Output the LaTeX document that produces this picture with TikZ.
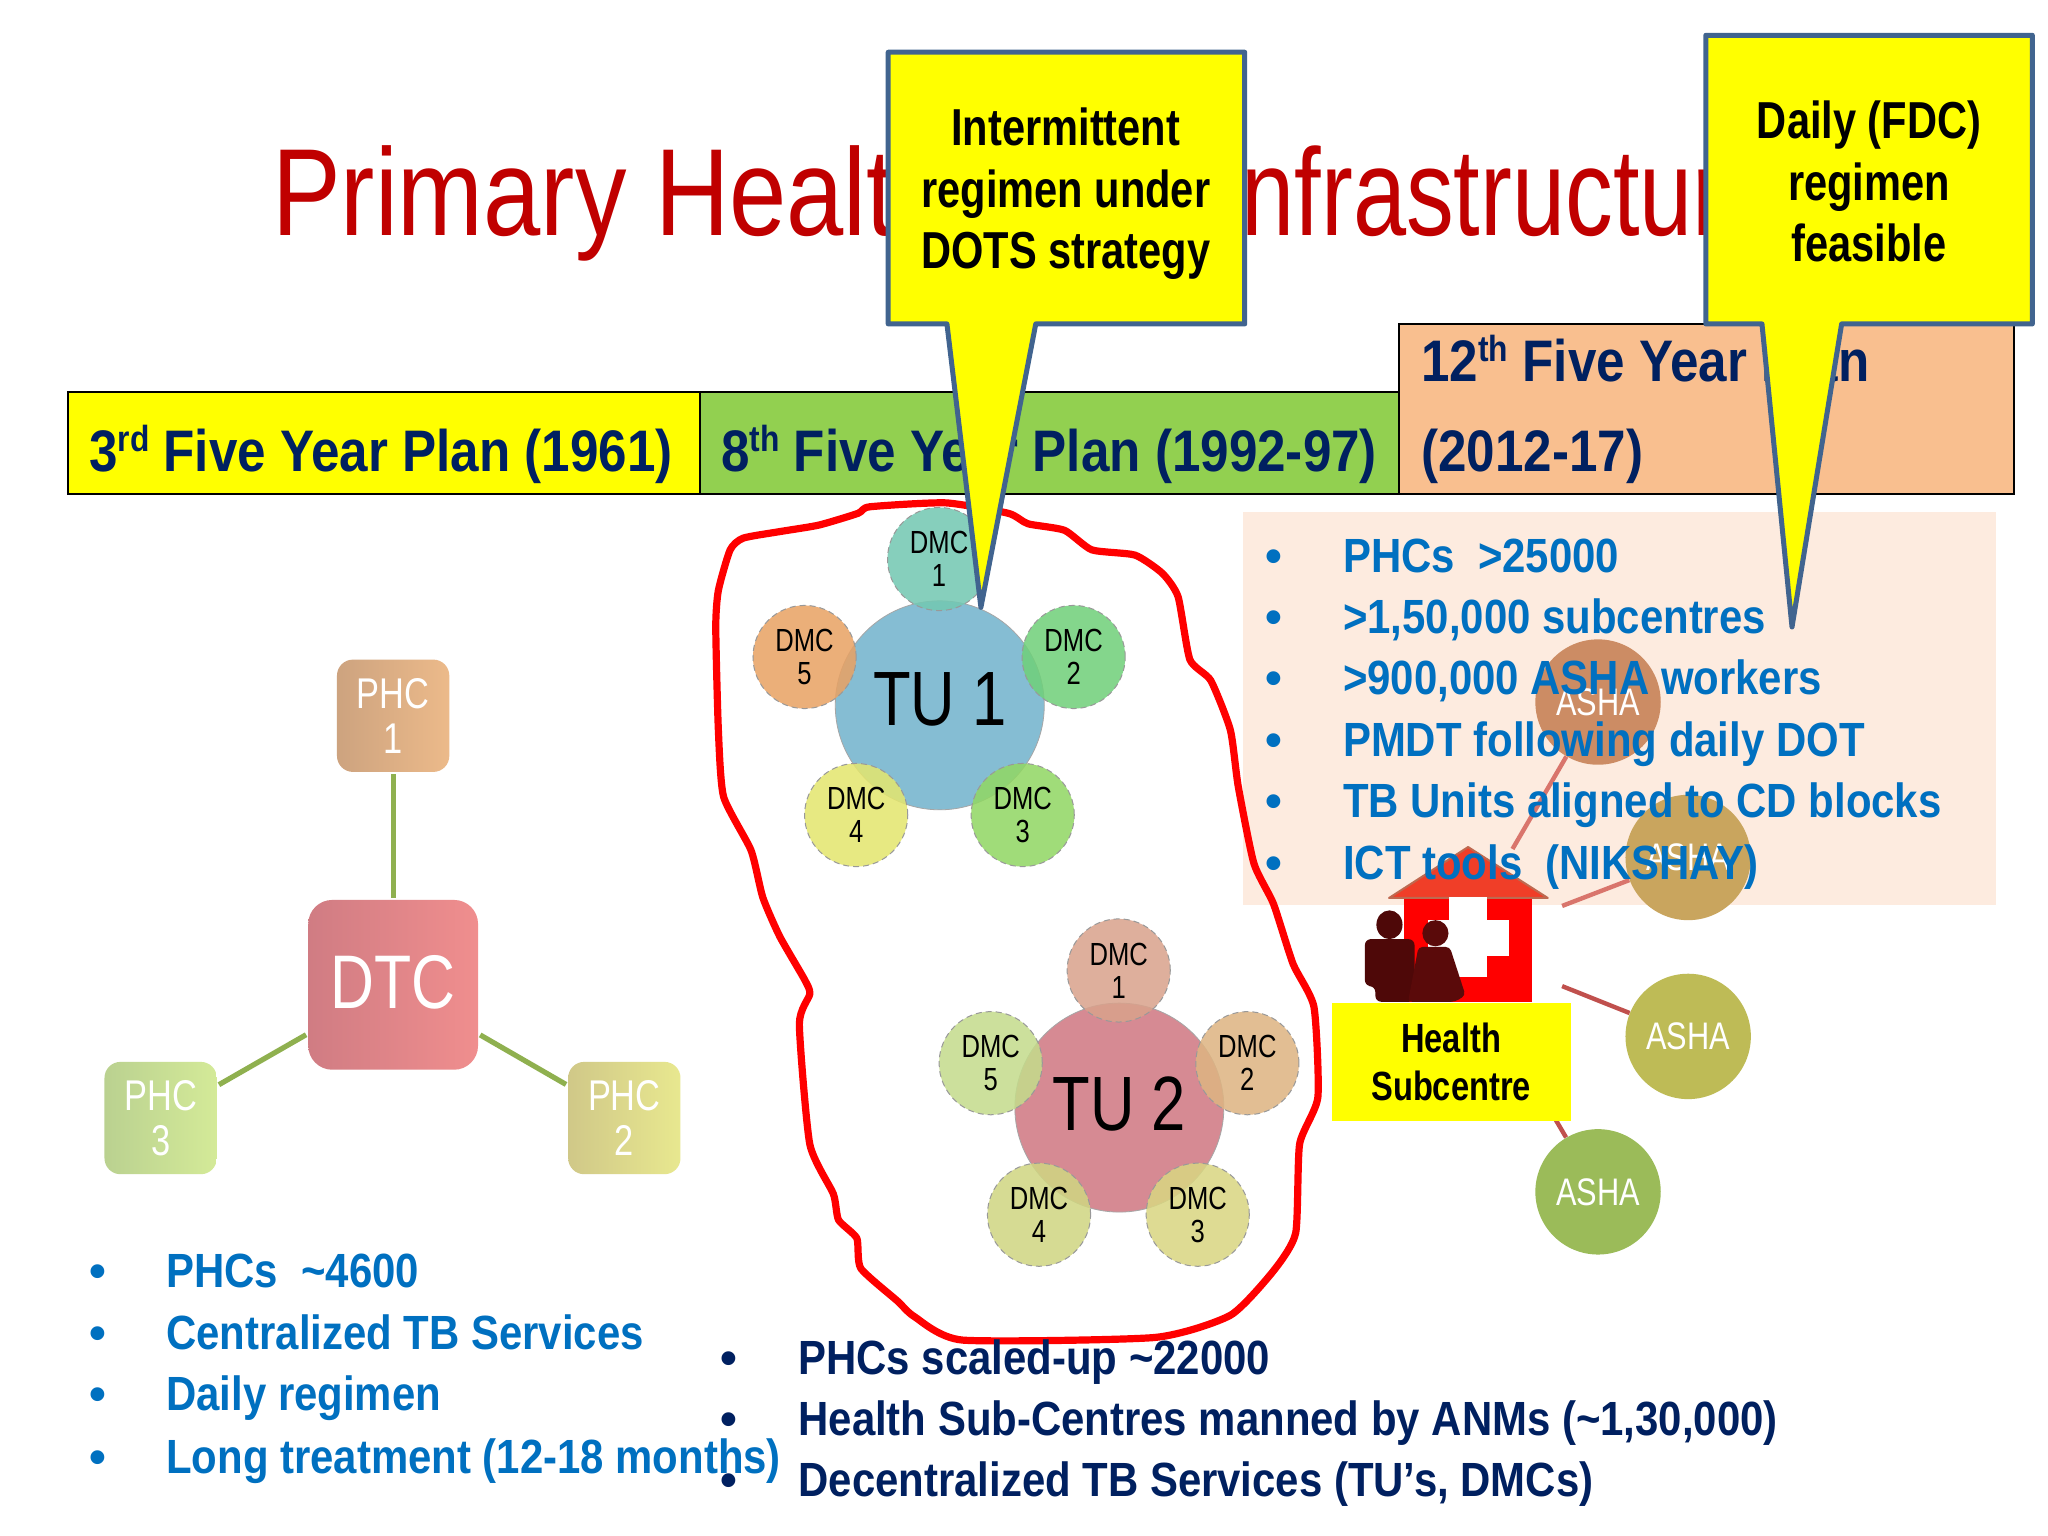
\documentclass[tikz,border=0pt]{standalone}
\usepackage{fontspec}
\setmainfont{Liberation Sans}
\newfontfamily\nar[FakeStretch=0.8]{Liberation Sans}
\newfontfamily\narb[FakeStretch=0.873]{Liberation Sans}
\newfontfamily\ttl[FakeStretch=0.83]{Liberation Sans}
\newfontfamily\ttlb[FakeStretch=0.77]{Liberation Sans}
\newcommand\supr[1]{\raisebox{.34em}{\scalebox{.62}{#1}}}
\newcommand\til{\textasciitilde}
\definecolor{cblue}{HTML}{0070C0}
\definecolor{cnavy}{HTML}{002060}
\definecolor{cred}{HTML}{C00000}
\definecolor{cyel}{HTML}{FFFF00}
\definecolor{cgrn}{HTML}{92D050}
\definecolor{corg}{HTML}{F9BF8F}
\definecolor{cpanel}{HTML}{FDEBDF}
\definecolor{cedge}{HTML}{41648F}
\definecolor{clink}{HTML}{8FB04F}
\definecolor{cmaroon}{HTML}{4E0808}
\definecolor{cwoman}{RGB}{90,10,10}
\definecolor{croof}{RGB}{240,62,40}
\definecolor{croofedge}{RGB}{190,105,80}
\definecolor{cline}{HTML}{C0504D}
\definecolor{clineb}{RGB}{217,117,108}
\definecolor{pa}{RGB}{205,163,127}\definecolor{pb}{RGB}{236,186,138}
\definecolor{da}{RGB}{208,124,131}\definecolor{db}{RGB}{240,142,142}
\definecolor{qa}{RGB}{208,200,136}\definecolor{qb}{RGB}{232,232,143}
\definecolor{ra}{RGB}{186,209,144}\definecolor{rb}{RGB}{212,234,152}
\tikzset{
  barbox/.style={draw=black,line width=1pt},
  bartext/.style={anchor=base west,inner sep=0,text=cnavy,font=\narb\bfseries\fontsize{29.3}{32}\selectfont},
  bullettext/.style={anchor=base west,inner sep=0,font=\narb\bfseries\fontsize{24}{26}\selectfont},
  bulletdot/.style={anchor=base,inner sep=0,font=\bfseries\fontsize{24}{26}\selectfont},
  calloutbox/.style={draw=cedge,fill=cyel,line width=2.5pt,line join=round},
  callouttext/.style={align=center,inner sep=0,text=black,font=\nar\bfseries\fontsize{26}{30.7}\selectfont},
  phcbox/.style={rounded corners=8pt,minimum size=86*0.653pt,inner sep=0,align=center,text=white,
     font=\nar\fontsize{21.5}{22.5}\selectfont},
  link/.style={draw=clink,line width=2.6pt,shorten >=1pt,shorten <=1pt},
  tucirc/.style={circle,minimum size=160*0.653pt,inner sep=0,draw=gray!70,line width=.4pt,text=black,
     font=\nar\fontsize{38.5}{40}\selectfont},
  dmc/.style={circle,minimum size=79*0.653pt,inner sep=0,draw=gray!80,line width=.5pt,densely dashed,
     fill opacity=.86,text opacity=1,align=center,text=black,font=\nar\fontsize{16}{16.4}\selectfont},
  asha/.style={circle,minimum size=96*0.653pt,inner sep=0,text=white,font=\nar\fontsize{19.2}{20}\selectfont},
  ashaline/.style={draw=cline,line width=2.2pt},
}
\begin{document}
\begin{tikzpicture}[x=0.653pt,y=-0.653pt]
\useasboundingbox (0,0) rectangle (1568,1176);
\fill[white] (0,0) rectangle (1568,1176);
% title
\node[anchor=base west,inner sep=0,text=cred,font=\fontsize{62}{64}\selectfont] (title) at (208,180) {{\ttl Primary Health Care }\kern-9pt{\ttlb Infrastructure}};
% bars
\path[barbox,fill=cyel] (52,300) rectangle (536,378);
\path[barbox,fill=cgrn] (536,300) rectangle (1071,378);
\path[barbox,fill=corg] (1071,248) rectangle (1542,378);
\node[bartext] (bar1) at (68,361) {3\supr{rd} Five Year Plan (1961)};
\node[bartext] (bar2) at (552,361) {8\supr{th} Five Year Plan (1992-97)};
\node[bartext] (bar3a) at (1088,292) {12\supr{th} Five Year Plan};
\node[bartext] (bar3b) at (1088,361) {(2012-17)};
% panel
\fill[cpanel] (952,392) rectangle (1528,693);
% red outline
\draw[red,line width=3.6pt,line join=round] plot[smooth cycle,tension=.35] coordinates {
 (548,480)(550,452)(559,421)(569,412)(597,407)(627,402)(657,393)(666,388)(724,385)(772,393)(787,401)(815,406)(836,421)(869,425)(890,439)(902,457)(911,505)(927,521)(942,559)(948,602)(960,661)(975,692)(990,738)(1006,771)(1009,840)(995,876)(992,944)(975,973)(942,1007)(884,1024)(737,1026)(700,1008)(687,996)(659,971)(656,948)(642,934)(638,914)(620,876)(612,784)(620,761)(616,750)(597,717)(584,687)(575,651)(554,610)(550,559)};
% PHC tree
\node[phcbox,left color=pa,middle color=pa,right color=pb] (phc1) at (301,548) {PHC\\1};
\node[phcbox,minimum size=130*0.653pt,rounded corners=12pt,left color=da,middle color=da,right color=db,font=\nar\fontsize{38}{38}\selectfont] (dtc) at (301,754) {\raisebox{3pt}{DTC}};
\node[phcbox,left color=qa,middle color=qa,right color=qb] (phc2) at (478,856) {PHC\\2};
\node[phcbox,left color=ra,middle color=ra,right color=rb] (phc3) at (123,856) {PHC\\3};
\draw[link] (phc1) -- (dtc);
\draw[link] (dtc) -- (phc2);
\draw[link] (dtc) -- (phc3);
% TU 1
\node[tucirc,fill={rgb,255:red,133;green,189;blue,211}] (tu1) at (719.5,540) {\raisebox{6.5pt}{TU 1}};
\node[dmc,fill={rgb,255:red,115;green,200;blue,178}] (ta1) at (719,428) {DMC\\1};
\node[dmc,fill={rgb,255:red,112;green,208;blue,122}] (ta2) at (822,503) {DMC\\2};
\node[dmc,fill={rgb,255:red,145;green,215;blue,100}] (ta3) at (783,624) {DMC\\3};
\node[dmc,fill={rgb,255:red,228;green,230;blue,110}] (ta4) at (655.5,624) {DMC\\4};
\node[dmc,fill={rgb,255:red,232;green,162;blue,100}] (ta5) at (616,503) {DMC\\5};
% TU 2
\node[tucirc,fill={rgb,255:red,214;green,138;blue,147}] (tu2) at (857,848) {\raisebox{4pt}{TU 2}};
\node[dmc,fill={rgb,255:red,217;green,162;blue,140}] (tb1) at (856.5,743) {DMC\\1};
\node[dmc,fill={rgb,255:red,222;green,180;blue,130}] (tb2) at (955,814) {DMC\\2};
\node[dmc,fill={rgb,255:red,217;green,214;blue,130}] (tb3) at (917,930) {DMC\\3};
\node[dmc,fill={rgb,255:red,208;green,214;blue,130}] (tb4) at (795.5,930) {DMC\\4};
\node[dmc,fill={rgb,255:red,196;green,220;blue,140}] (tb5) at (758.5,814) {DMC\\5};
% house
\fill[red] (1074.7,686) rectangle (1173,767);
\fill[croof,draw=croofedge,line width=1pt,line join=round] (1124,648.5) -- (1185,687.5) -- (1063.5,687.5) -- cycle;
\fill[white] (1109.7,687) rectangle (1138.4,748);
\fill[white] (1093,704) rectangle (1155,732);
\fill[cmaroon] (1063.8,708) circle[x radius=10,y radius=11];
\fill[cmaroon,rounded corners=3pt] (1045,755) -- (1045,719) -- (1083,719) -- (1083,767) -- (1053,767) -- (1053,755) -- cycle;
\fill[cwoman] (1099,714.5) circle[radius=10];
\fill[cwoman,rounded corners=2pt] (1086,725) -- (1110,725) -- (1122,762) -- (1114,767) -- (1078,767) -- cycle;
% ASHA
\node[asha,fill={rgb,255:red,204;green,140;blue,100}] (as1) at (1223.5,537.5) {ASHA};
\node[asha,fill={rgb,255:red,201;green,165;blue,94}] (as2) at (1292.5,656.5) {ASHA};
\node[asha,fill={rgb,255:red,190;green,187;blue,86}] (as3) at (1292.5,793.5) {ASHA};
\node[asha,fill={rgb,255:red,155;green,187;blue,89}] (as4) at (1223.5,912.5) {ASHA};
\coordinate (h1) at (1158,650);
\coordinate (h2) at (1196,693.6);
\coordinate (h3) at (1196,755);
\coordinate (h4) at (1185,847);
\draw[ashaline,draw=clineb] (as1) -- (h1);
\draw[ashaline,draw=clineb] (as2) -- (h2);
\draw[ashaline] (as3) -- (h3);
\draw[ashaline] (as4) -- (h4);
% health subcentre
\node[fill=cyel,minimum width=183*0.653pt,minimum height=90*0.653pt,inner sep=0,align=center,text=black,
  font=\nar\bfseries\fontsize{20.4}{24}\selectfont] (hs) at (1111,813) {Health\\Subcentre};
% left list
\foreach \nm/\yy/\tx in {l1/986/{PHCs\ \ \til 4600},l2/1033/{Centralized TB Services},l3/1080/{Daily regimen},l4/1128/{Long treatment (12-18 months)}}{
  \node[bulletdot,text=cblue] (\nm d) at (75,\yy) {•};
  \node[bullettext,text=cblue] (\nm) at (127,\yy) {\tx};
}
% middle list
\foreach \nm/\yy/\tx in {m1/1052/{PHCs scaled-up \til 22000},m2/1099/{Health Sub-Centres manned by ANMs (\til 1,30,000)},m3/1146/{Decentralized TB Services (TU’s, DMCs)}}{
  \node[bulletdot,text=cnavy] (\nm d) at (558,\yy) {•};
  \node[bullettext,text=cnavy] (\nm) at (611,\yy) {\tx};
}
% right list
\foreach \nm/\yy/\tx in {r1/438/{PHCs\ \ >25000},r2/485/{>1,50,000 subcentres},r3/532/{>900,000 ASHA workers},r4/579/{PMDT following daily DOT},r5/626/{TB Units aligned to CD blocks},r6/673/{ICT tools\ \ (NIKSHAY)}}{
  \node[bulletdot,text=cblue] (\nm d) at (975,\yy) {•};
  \node[bullettext,text=cblue] (\nm) at (1028,\yy) {\tx};
}
% callouts
\draw[calloutbox] (680,40) -- (953,40) -- (953,248) -- (793,248) -- (751,465) -- (725,248) -- (680,248) -- cycle;
\node[callouttext] (c1) at (816,148.5) {Intermittent\\regimen under\\DOTS strategy};
\draw[calloutbox] (1306,27) -- (1556,27) -- (1556,248) -- (1410,248) -- (1372,480) -- (1349,248) -- (1306,248) -- cycle;
\node[callouttext] (c2) at (1431,139) {Daily (FDC)\\regimen\\feasible};
\end{tikzpicture}
\end{document}
